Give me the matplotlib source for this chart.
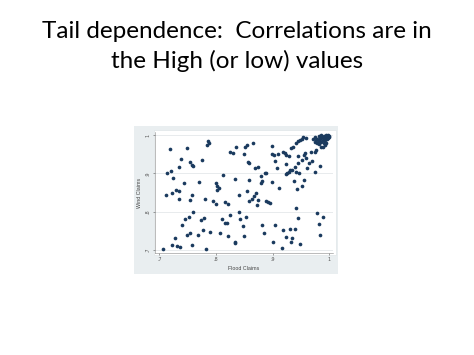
import matplotlib
matplotlib.use("Agg")
import matplotlib.pyplot as plt
from matplotlib.patches import Rectangle

title_line1 = "Tail dependence:  Correlations are in"
title_line2 = "the High (or low) values"
x_label = "Flood Claims"
y_label = "Wind Claims"
x_ticks = [0.7, 0.8, 0.9, 1.0]
x_tick_labels = [".7", ".8", ".9", "1"]
y_ticks = [0.7, 0.8, 0.9, 1.0]
y_tick_labels = [".7", ".8", ".9", "1"]

flood_top_left = [.719, .749, .786, .788, .785, .739, .755, .757, .760, .735, .776, .713, .721, .724,
                  .743, .770, .812, .800, .802, .805, .802, .712, .723, .729, .734, .734, .758, .754,
                  .781, .794, .800, .816, .821]
wind_top_left = [.964, .965, .984, .979, .973, .938, .930, .923, .918, .917, .934, .900, .907, .889,
                 .874, .878, .897, .874, .868, .863, .857, .844, .848, .857, .854, .834, .844, .830,
                 .834, .828, .819, .826, .820]

flood_top_mid = [.824, .830, .836, .851, .854, .865, .850, .856, .858, .868, .874, .834, .858, .880,
                 .886, .888, .879, .882, .841, .854, .858, .867, .870, .874, .872, .864]
wind_top_mid = [.957, .954, .968, .970, .973, .980, .950, .930, .926, .914, .917, .884, .883, .894,
                .900, .902, .876, .879, .843, .854, .829, .841, .850, .830, .817, .834]

flood_top_right = [.898, .898, .902, .909, .908, .904, .918, .922, .923, .928, .932, .936, .942, .945,
                   .948, .951, .945, .954, .958, .957, .956, .958, .951, .944, .939, .935, .925, .928,
                   .924, .931, .942, .946, .924, .898, .912, .938, .943, .951, .956, .961, .965, .969,
                   .968, .975, .977, .974, .983, .986, .989, .992]
wind_top_right = [.971, .951, .948, .950, .913, .931, .955, .954, .949, .945, .966, .970, .980, .985,
                  .987, .991, .945, .996, .993, .954, .947, .941, .935, .926, .917, .910, .902, .904,
                  .898, .909, .903, .902, .924, .877, .863, .880, .860, .868, .883, .913, .928, .933,
                  .955, .955, .960, .904, .920, .968, .970, .974]

flood_cluster = [.975, .978, .981, .981, .984, .985, .986, .988, .989, .991, .992, .994, .995, .996,
                 .998, .999, .9995, .979, .982, .975, .972, .993, .995, .990, .987, .997, .983, .977]
wind_cluster = [.996, .989, .985, .997, .991, .983, 1.0, .994, .987, .998, .991, 1.0, .996, .989,
                1.0, .994, .998, .978, .977, .983, .990, .983, .978, .980, .996, .992, .993, .986]

flood_bottom = [.706, .723, .731, .736, .727, .740, .745, .752, .759, .749, .754, .758, .769, .774,
                .779, .777, .783, .789, .807, .811, .816, .820, .821, .825, .834, .834, .841, .843,
                .847, .849, .853, .882, .885, .889, .892, .896, .901, .904, .916, .919, .924, .931,
                .933, .934, .939, .942, .945, .949, .978, .982, .984, .988]
wind_bottom = [.703, .714, .710, .708, .730, .764, .781, .787, .799, .739, .743, .712, .739, .778,
               .783, .753, .703, .747, .744, .782, .771, .771, .736, .792, .717, .720, .800, .782,
               .763, .737, .785, .764, .744, .828, .824, .823, .721, .765, .706, .751, .734, .755,
               .722, .730, .755, .810, .783, .715, .797, .767, .738, .785]

flood = flood_top_left + flood_top_mid + flood_top_right + flood_cluster + flood_bottom
wind = wind_top_left + wind_top_mid + wind_top_right + wind_cluster + wind_bottom

W, H = 474, 355
fig = plt.figure(figsize=(W / 100, H / 100), dpi=100)
fig.patch.set_facecolor("white")

fig.text(0.5, 1 - 31 / H, title_line1, ha="center", va="center", fontsize=17.5,
         family=["Lato", "DejaVu Sans"], color="#000000")
fig.text(0.5, 1 - 61 / H, title_line2, ha="center", va="center", fontsize=17.5,
         family=["Lato", "DejaVu Sans"], color="#000000")

# outer graph region
fig.patches.append(Rectangle((134 / W, 1 - 274 / H), 204 / W, 148 / H, transform=fig.transFigure,
                             facecolor="#e9eef0", edgecolor="none", zorder=-10))
# white plot region (slightly larger than axes)
fig.patches.append(Rectangle((154 / W, 1 - 255 / H), 182 / W, 125 / H, transform=fig.transFigure,
                             facecolor="white", edgecolor="#dfe5e8", linewidth=0.5, zorder=-9))

ax = fig.add_axes([155 / W, 1 - 253 / H, 178 / W, 121 / H])
ax.set_zorder(5)
ax.set_facecolor("white")
ax.scatter(flood, wind, s=7, color="#1a3a5e", linewidths=0, zorder=3)
ax.set_xlim(0.6924, 1.0065)
ax.set_ylim(0.692, 1.008)
ax.set_xticks(x_ticks)
ax.set_xticklabels(x_tick_labels)
ax.set_yticks(y_ticks)
ax.set_yticklabels(y_tick_labels, rotation=90, va="center")
ax.tick_params(labelsize=3.5, length=1.5, width=0.4, pad=1.5, colors="#555555")
ax.grid(axis="y", color="#e4e8ea", linewidth=0.6)
ax.set_axisbelow(True)
for s in ["top", "right"]:
    ax.spines[s].set_visible(False)
for s in ["left", "bottom"]:
    ax.spines[s].set_color("#888888")
    ax.spines[s].set_linewidth(0.4)
ax.set_xlabel(x_label, fontsize=3.8, family="Liberation Sans", labelpad=2.5, color="#444444")
ax.set_ylabel(y_label, fontsize=3.8, family="Liberation Sans", labelpad=3, color="#444444")

fig.savefig("out.png", dpi=100)
